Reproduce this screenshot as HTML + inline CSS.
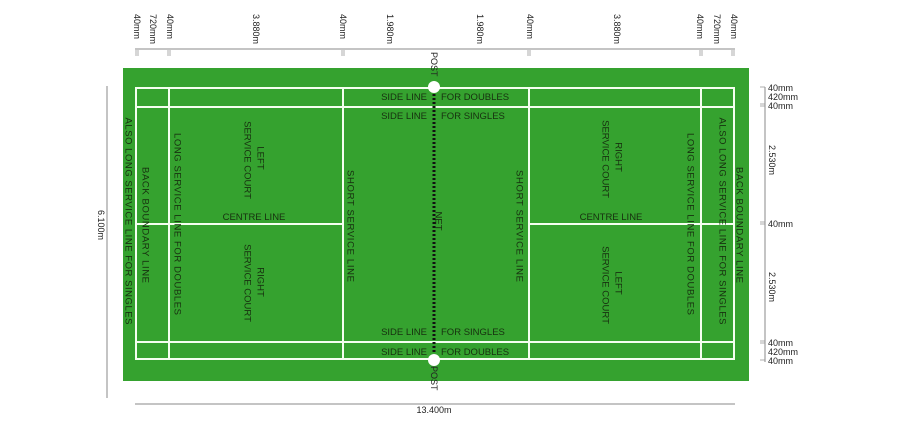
<!DOCTYPE html>
<html><head><meta charset="utf-8"><style>
html,body{margin:0;padding:0;background:#fff;width:902px;height:429px;overflow:hidden}
text{font-family:"Liberation Sans",sans-serif}
</style></head><body>
<svg width="902" height="429" viewBox="0 0 902 429" xmlns="http://www.w3.org/2000/svg">
<g stroke="#888" stroke-width="1" fill="none">
<line x1="135" y1="49" x2="735" y2="49"/>
<line x1="107" y1="86" x2="107" y2="398"/>
<line x1="135" y1="404" x2="735" y2="404"/>
<line x1="765" y1="87" x2="765" y2="362"/>
</g>
<g stroke="#999" stroke-width="0.8">
<line x1="136" y1="50" x2="136" y2="56"/><line x1="138" y1="50" x2="138" y2="56"/>
<line x1="168" y1="50" x2="168" y2="56"/><line x1="170" y1="50" x2="170" y2="56"/>
<line x1="342" y1="50" x2="342" y2="56"/><line x1="344" y1="50" x2="344" y2="56"/>
<line x1="528" y1="50" x2="528" y2="56"/><line x1="530" y1="50" x2="530" y2="56"/>
<line x1="700" y1="50" x2="700" y2="56"/><line x1="702" y1="50" x2="702" y2="56"/>
<line x1="732" y1="50" x2="732" y2="56"/><line x1="734" y1="50" x2="734" y2="56"/>
<line x1="760" y1="87" x2="765" y2="87"/><line x1="760" y1="104" x2="765" y2="104"/><line x1="760" y1="106" x2="765" y2="106"/>
<line x1="760" y1="222" x2="765" y2="222"/><line x1="760" y1="224" x2="765" y2="224"/>
<line x1="760" y1="341" x2="765" y2="341"/><line x1="760" y1="343" x2="765" y2="343"/><line x1="760" y1="360" x2="765" y2="360"/>
</g>
<g font-size="9" fill="#222">
<g text-anchor="start" dominant-baseline="central">
<text transform="translate(137,14) rotate(90)">40mm</text>
<text transform="translate(153,14) rotate(90)">720mm</text>
<text transform="translate(170,14) rotate(90)">40mm</text>
<text transform="translate(256,14) rotate(90)">3.880m</text>
<text transform="translate(343,14) rotate(90)">40mm</text>
<text transform="translate(390,14) rotate(90)">1.980m</text>
<text transform="translate(480,14) rotate(90)">1.980m</text>
<text transform="translate(530,14) rotate(90)">40mm</text>
<text transform="translate(617,14) rotate(90)">3.880m</text>
<text transform="translate(700,14) rotate(90)">40mm</text>
<text transform="translate(717,14) rotate(90)">720mm</text>
<text transform="translate(734,14) rotate(90)">40mm</text>
</g>
<g text-anchor="middle" dominant-baseline="central">
<text transform="translate(101,225) rotate(90)">6.100m</text>
<text transform="translate(772,160) rotate(90)">2.530m</text>
<text transform="translate(772,287) rotate(90)">2.530m</text>
</g>
<text x="434" y="413" text-anchor="middle">13.400m</text>
<text x="768" y="91">40mm</text>
<text x="768" y="100">420mm</text>
<text x="768" y="109">40mm</text>
<text x="768" y="227">40mm</text>
<text x="768" y="346">40mm</text>
<text x="768" y="355">420mm</text>
<text x="768" y="364">40mm</text>
</g>
<rect x="123" y="68" width="626" height="313" fill="#35a22f"/>
<g stroke="#f4fff0" stroke-width="2" fill="none">
<rect x="136" y="88" width="598" height="271"/>
<line x1="136" y1="107" x2="734" y2="107"/>
<line x1="136" y1="342" x2="734" y2="342"/>
<line x1="169" y1="88" x2="169" y2="359"/>
<line x1="701" y1="88" x2="701" y2="359"/>
<line x1="343" y1="88" x2="343" y2="359"/>
<line x1="529" y1="88" x2="529" y2="359"/>
<line x1="136" y1="224" x2="343" y2="224"/>
<line x1="529" y1="224" x2="734" y2="224"/>
</g>
<line x1="434" y1="90" x2="434" y2="358" stroke="#111" stroke-width="3" stroke-dasharray="2,2"/>
<circle cx="434" cy="87" r="6" fill="#fff"/>
<circle cx="434" cy="360" r="6" fill="#fff"/>
<g font-size="9" fill="#222" text-anchor="start" dominant-baseline="central">
<text transform="translate(434,52) rotate(90)">POST</text>
<text transform="translate(434,366) rotate(90)">POST</text>
</g>
<g font-size="9.5" fill="#17300f">
<text x="427" y="100" text-anchor="end">SIDE LINE</text>
<text x="441" y="100">FOR DOUBLES</text>
<text x="427" y="119" text-anchor="end">SIDE LINE</text>
<text x="441" y="119">FOR SINGLES</text>
<text x="427" y="335" text-anchor="end">SIDE LINE</text>
<text x="441" y="335">FOR SINGLES</text>
<text x="427" y="355" text-anchor="end">SIDE LINE</text>
<text x="441" y="355">FOR DOUBLES</text>
<text x="254" y="220" text-anchor="middle">CENTRE LINE</text>
<text x="611" y="220" text-anchor="middle">CENTRE LINE</text>
<g text-anchor="middle" dominant-baseline="central">
<text transform="translate(128,221) rotate(90)" textLength="207">ALSO LONG SERVICE LINE FOR SINGLES</text>
<text transform="translate(145,225) rotate(90)" textLength="116">BACK BOUNDARY LINE</text>
<text transform="translate(177,224) rotate(90)" textLength="182">LONG SERVICE LINE FOR DOUBLES</text>
<text transform="translate(260,158) rotate(90)">LEFT</text>
<text transform="translate(247,160) rotate(90)">SERVICE COURT</text>
<text transform="translate(260,282) rotate(90)">RIGHT</text>
<text transform="translate(247,283) rotate(90)">SERVICE COURT</text>
<text transform="translate(350,226) rotate(90)" textLength="112">SHORT SERVICE LINE</text>
<text transform="translate(438,221) rotate(90)">NET</text>
<text transform="translate(519,226) rotate(90)" textLength="112">SHORT SERVICE LINE</text>
<text transform="translate(618,157) rotate(90)">RIGHT</text>
<text transform="translate(605,159) rotate(90)">SERVICE COURT</text>
<text transform="translate(618,283) rotate(90)">LEFT</text>
<text transform="translate(605,285) rotate(90)">SERVICE COURT</text>
<text transform="translate(690,224) rotate(90)" textLength="182">LONG SERVICE LINE FOR DOUBLES</text>
<text transform="translate(722,221) rotate(90)" textLength="207">ALSO LONG SERVICE LINE FOR SINGLES</text>
<text transform="translate(739,225) rotate(90)" textLength="116">BACK BOUNDARY LINE</text>
</g>
</g>
</svg>
</body></html>
